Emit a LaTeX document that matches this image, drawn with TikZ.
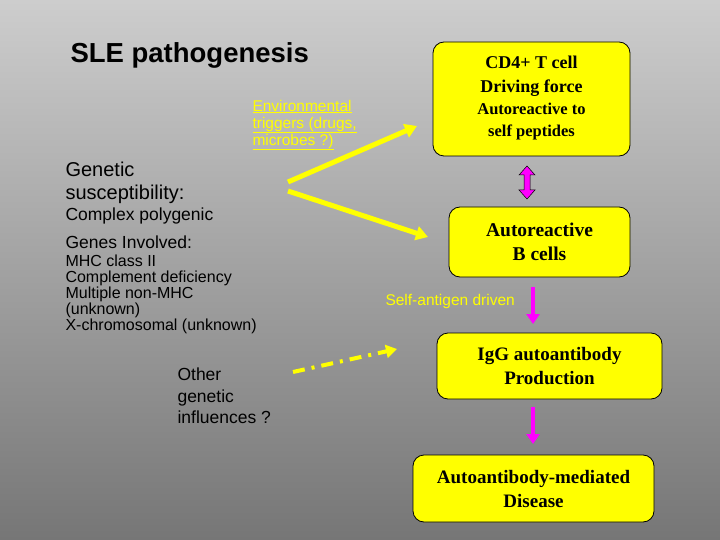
\documentclass[tikz,border=0pt]{standalone}
\usepackage{fontspec}
\setmainfont{Liberation Serif}
\newfontfamily\sansf{Liberation Sans}
\usetikzlibrary{arrows.meta}
\definecolor{yel}{RGB}{255,255,0}
\definecolor{mag}{RGB}{255,0,255}
\begin{document}
\begin{tikzpicture}[x=1pt,y=-1pt,
  box/.style={draw=black,line width=0.8pt,fill=yel,rounded corners=11pt,align=center,font=\bfseries,inner sep=0pt},
  lt/.style={anchor=west,align=left,font=\sansf},
  yarrow/.style={draw=yel,line width=5pt,-{Triangle[length=12pt,width=14pt]}},
  marrow/.style={draw=mag,line width=4pt,-{Triangle[length=10pt,width=13pt]}}]
\shade[top color={rgb,255:red,205;green,205;blue,205},bottom color={rgb,255:red,118;green,118;blue,118}] (0,0) rectangle (720,540);
\useasboundingbox (0,0) rectangle (720,540);
\node[box,minimum width=197pt,minimum height=114pt] (cd4) at (531.5,99) {};
\node[align=center,font=\fontsize{18}{24}\selectfont\bfseries] (cd4t) at (531.5,76) {CD4+ T cell\\Driving force};
\node[align=center,font=\fontsize{16.5}{22}\selectfont\bfseries] (cd4s) at (531.5,122) {Autoreactive to\\self peptides};
\node[box,minimum width=181pt,minimum height=70pt,font=\fontsize{19.5}{24}\selectfont\bfseries] (bc) at (539.5,242) {Autoreactive\\B cells};
\node[box,minimum width=225pt,minimum height=66pt,font=\fontsize{19}{24}\selectfont\bfseries] (igg) at (549.5,366) {IgG autoantibody\\Production};
\node[box,minimum width=241pt,minimum height=67pt,font=\fontsize{19}{24}\selectfont\bfseries] (dis) at (533.5,488.5) {Autoantibody-mediated\\Disease};
\node[lt,font=\sansf\bfseries\fontsize{27.5}{30}\selectfont] (title) at (67,55) {SLE pathogenesis};
\node[lt,text=yel,font=\sansf\fontsize{15.5}{17}\selectfont] (env) at (249,125) {\underline{Environmental}\\\underline{triggers (drugs,}\\\underline{microbes ?)}};
\node[lt,font=\sansf\fontsize{20}{23}\selectfont] (gen) at (62,183) {Genetic\\susceptibility:};
\node[lt,font=\sansf\fontsize{17.5}{20}\selectfont] (cp) at (62,216) {Complex polygenic};
\node[lt,font=\sansf\fontsize{17.5}{20}\selectfont] (gi) at (62,242) {Genes Involved:};
\node[lt,font=\sansf\fontsize{16}{16}\selectfont] (mhc) at (62,294) {MHC class II\\Complement deficiency\\Multiple non-MHC\\(unknown)\\X-chromosomal (unknown)};
\node[lt,font=\sansf\fontsize{17.5}{21.5}\selectfont] (oth) at (174,396) {Other\\genetic\\influences ?};
\node[lt,text=yel,font=\sansf\fontsize{15.5}{16}\selectfont] (sa) at (382,301) {Self-antigen driven};
\draw[yarrow] (288,182) -- (417,126);
\draw[yarrow] (288,191) -- (428,237);
\draw[draw=yel,line width=4pt,dash pattern=on 12pt off 7pt on 3pt off 7pt,-{Triangle[length=11pt,width=13pt]}] (293,372) -- (397,349);
\draw[draw=black,line width=0.5pt,fill=mag] (527,166) -- (535,175) -- (530,175) -- (530,190) -- (535,190) -- (527,199) -- (519,190) -- (524,190) -- (524,175) -- (519,175) -- cycle;
\draw[marrow] (533,287) -- (533,324);
\draw[marrow] (533,407) -- (533,444);
\end{tikzpicture}
\end{document}
